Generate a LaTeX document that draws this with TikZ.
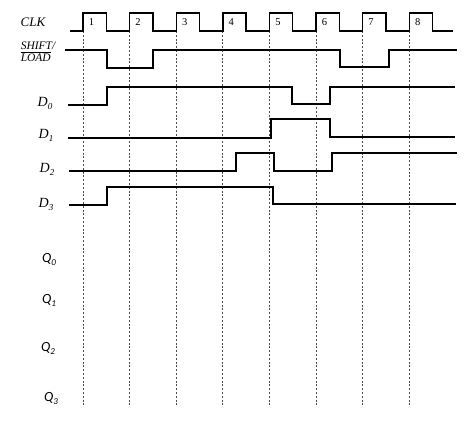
\documentclass[tikz,border=0pt]{standalone}
\usepackage{fontspec}
\setmainfont{Liberation Serif}
\newfontfamily\qfont{Carlito}
\newcommand{\lsub}[1]{\raisebox{-3pt}{\fontsize{9}{9}\selectfont #1}}
\begin{document}
\begin{tikzpicture}[x=1pt,y=-1pt,
  wave/.style={line width=1.4pt,line join=miter},
  grid/.style={line width=0.7pt,dash pattern=on 2pt off 1.8pt,black!70},
  lbl/.style={font=\fontsize{14}{14}\selectfont\itshape,inner sep=0pt},
  qlbl/.style={font=\fontsize{14}{14}\selectfont\qfont\itshape,inner sep=0pt},
  num/.style={font=\fontsize{10.5}{10.5}\selectfont,inner sep=0pt}]
\useasboundingbox (0,0) rectangle (474,430);
% dashed guide lines at rising clock edges
\foreach \i in {0,...,7}{
  \draw[grid] ({83+46.6*\i},31) -- ({83+46.6*\i},407);
}
% clock
\draw[wave] (70,31)
  \foreach \i in {0,...,7}{ -- ({83+46.6*\i},31) -- ({83+46.6*\i},13) -- ({106.3+46.6*\i},13) -- ({106.3+46.6*\i},31) }
  -- (453,31);
\foreach \i in {1,...,8}{
  \node[num] (n\i) at ({91.5+46.6*(\i-1)},22) {\i};
}
% SHIFT/LOAD
\draw[wave] (65,50) -- (107,50) -- (107,68) -- (153,68) -- (153,50) -- (340,50) -- (340,67) -- (389,67) -- (389,50) -- (457,50);
% D0
\draw[wave] (68,105) -- (107,105) -- (107,87) -- (292,87) -- (292,104) -- (330,104) -- (330,87) -- (455,87);
% D1
\draw[wave] (68,138) -- (271,138) -- (271,119) -- (330,119) -- (330,137) -- (455,137);
% D2
\draw[wave] (69,171) -- (236,171) -- (236,153) -- (274,153) -- (274,171) -- (332,171) -- (332,153) -- (457,153);
% D3
\draw[wave] (69,205) -- (107,205) -- (107,187) -- (273,187) -- (273,204) -- (456,204);
% labels
\node[lbl,font=\fontsize{13}{13}\selectfont\itshape] (clk) at (33,22) {CLK};
\node[lbl,font=\fontsize{11.5}{13}\selectfont\itshape,align=left] (sl) at (38,52) {SHIFT/\\[-1.5pt]$\overline{\mbox{\itshape LOAD}}$};
\node[lbl] (d0) at (45,103) {D\lsub{0}};
\node[lbl] (d1) at (46,135) {D\lsub{1}};
\node[lbl] (d2) at (47,169) {D\lsub{2}};
\node[lbl] (d3) at (46,204) {D\lsub{3}};
\node[qlbl] (q0) at (49,259) {Q\lsub{0}};
\node[qlbl] (q1) at (49,300) {Q\lsub{1}};
\node[qlbl] (q2) at (48,348) {Q\lsub{2}};
\node[qlbl] (q3) at (51,398) {Q\lsub{3}};
\end{tikzpicture}
\end{document}
